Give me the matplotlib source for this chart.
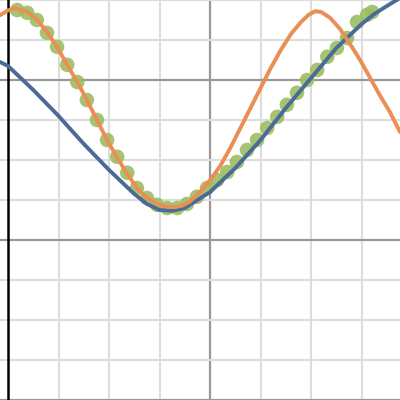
import matplotlib
matplotlib.use("Agg")
import matplotlib.pyplot as plt
import numpy as np

orange_x = [-0.16, 0.0, 0.14, 0.38, 0.57, 0.77, 0.97, 1.17, 1.37, 1.56, 1.76, 1.96, 2.16, 2.36,
            2.55, 2.75, 2.95, 3.15, 3.3, 3.45, 3.6, 3.8, 4.0, 4.2, 4.4, 4.6, 4.8, 5.0, 5.2, 5.4,
            5.6, 5.8, 5.95, 6.08, 6.2, 6.38, 6.57, 6.77, 6.97, 7.17, 7.36, 7.56, 7.76]
orange_y = [5.62, 5.74, 5.8, 5.7, 5.52, 5.2, 4.83, 4.38, 3.95, 3.5, 3.0, 2.5, 2.06, 1.65,
            1.3, 1.05, 0.9, 0.83, 0.82, 0.86, 0.96, 1.2, 1.5, 1.85, 2.3, 2.8, 3.3, 3.8, 4.3, 4.75,
            5.15, 5.45, 5.63, 5.72, 5.7, 5.55, 5.28, 4.9, 4.5, 4.05, 3.62, 3.2, 2.7]

blue_x = [-0.16, 0, 0.5, 1, 1.5, 2, 2.5, 2.75, 3, 3.25, 3.5, 4, 4.5, 5, 5.5, 6, 6.5, 7, 7.25, 7.5, 7.76]
blue_y = [4.45, 4.35, 3.75, 3.1, 2.4, 1.75, 1.15, 0.9, 0.75, 0.73, 0.8, 1.2, 1.8, 2.5, 3.3, 4.05, 4.8, 5.4, 5.65, 5.85, 6.05]

dots_x = [0.18, 0.38, 0.57, 0.77, 0.97, 1.17, 1.37, 1.56, 1.76, 1.96, 2.16, 2.36, 2.55, 2.75,
          2.95, 3.15, 3.35, 3.54, 3.74, 3.94, 4.14, 4.34, 4.53, 4.73, 4.93, 5.13, 5.33, 5.52,
          5.72, 5.92, 6.12, 6.32, 6.51, 6.71, 6.91, 7.11, 7.21]
dots_y = [5.75, 5.68, 5.5, 5.18, 4.83, 4.38, 3.95, 3.5, 3.0, 2.5, 2.08, 1.68, 1.3, 1.05,
          0.88, 0.8, 0.8, 0.9, 1.08, 1.3, 1.5, 1.7, 1.95, 2.25, 2.5, 2.8, 3.08, 3.38,
          3.68, 4.0, 4.25, 4.58, 4.8, 5.05, 5.45, 5.63, 5.7]

fig = plt.figure(figsize=(4, 4), dpi=100)
ax = fig.add_axes([0, 0, 1, 1])
ax.set_xlim(-0.16, 7.76)
ax.set_ylim(-4, 6)

for gx in np.arange(1, 8):
    ax.axvline(gx, color='#999999' if gx % 4 == 0 else '#dddddd', lw=1.6 if gx % 4 == 0 else 1.5, zorder=0)
for gy in np.arange(-4, 7):
    ax.axhline(gy, color='#999999' if gy % 4 == 0 else '#dddddd', lw=1.6 if gy % 4 == 0 else 1.5, zorder=0)
ax.axvline(0, color='black', lw=1.8, zorder=1)

ax.scatter(dots_x, dots_y, s=110, color='#9dbd62', alpha=0.9, edgecolors='none', zorder=2)
ax.plot(blue_x, blue_y, color='#4a6b96', lw=2.8, zorder=3, solid_capstyle='round', solid_joinstyle='round')
ax.plot(orange_x, orange_y, color='#ea8e56', lw=2.8, zorder=4, solid_capstyle='round', solid_joinstyle='round')

ax.set_xticks([])
ax.set_yticks([])
for s in ax.spines.values():
    s.set_visible(False)

fig.savefig('out.png', dpi=100)
